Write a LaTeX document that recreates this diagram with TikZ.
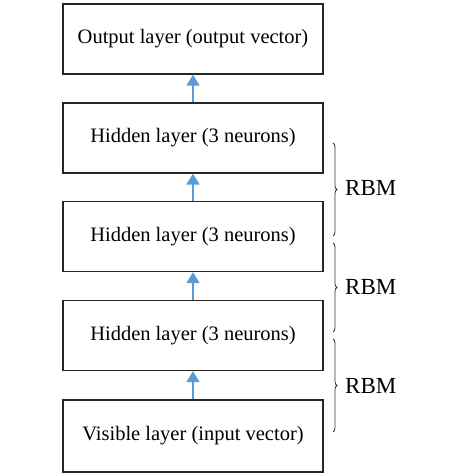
\documentclass[tikz,border=0pt]{standalone}
\usepackage{fontspec}
\setmainfont{Liberation Serif}
\usetikzlibrary{decorations.pathreplacing,arrows.meta}
\definecolor{arrowblue}{RGB}{91,155,213}
\begin{document}
\begin{tikzpicture}[x=1pt,y=1pt,
  layerbox/.style={draw=black!85, line width=1.3pt, minimum width=260pt, minimum height=70pt, inner sep=0pt, font=\fontsize{20.5}{24}\selectfont},
  uparrow/.style={draw=arrowblue, line width=1.8pt, -{Triangle[width=13pt,length=11pt]}},
  rbmbrace/.style={draw=black!80, line width=0.8pt, decorate, decoration={brace, amplitude=4pt}},
  rbmlabel/.style={anchor=west, inner sep=0pt, font=\fontsize{23}{27}\selectfont}]
\useasboundingbox (0,0) rectangle (474,474);
\node[layerbox] (out) at (193,435) {Output layer (output vector)};
\node[layerbox] (h3) at (193,336) {Hidden layer (3 neurons)};
\node[layerbox] (h2) at (193,237.5) {Hidden layer (3 neurons)};
\node[layerbox] (h1) at (193,138.5) {Hidden layer (3 neurons)};
\node[layerbox, minimum height=72pt] (vis) at (193,38) {Visible layer (input vector)};
\draw[uparrow] (h3.north) -- (out.south);
\draw[uparrow] (h2.north) -- (h3.south);
\draw[uparrow] (h1.north) -- (h2.south);
\draw[uparrow] (vis.north) -- (h1.south);
\coordinate (b1t) at (333,331);
\coordinate (b1b) at (333,238);
\coordinate (b2t) at (333,231);
\coordinate (b2b) at (333,142);
\coordinate (b3t) at (333,135);
\coordinate (b3b) at (333,42);
\draw[rbmbrace] (b1t) -- (b1b);
\draw[rbmbrace] (b2t) -- (b2b);
\draw[rbmbrace] (b3t) -- (b3b);
\node[rbmlabel] (r1) at (345,286) {RBM};
\node[rbmlabel] (r2) at (345,187) {RBM};
\node[rbmlabel] (r3) at (345,88) {RBM};
\end{tikzpicture}
\end{document}
